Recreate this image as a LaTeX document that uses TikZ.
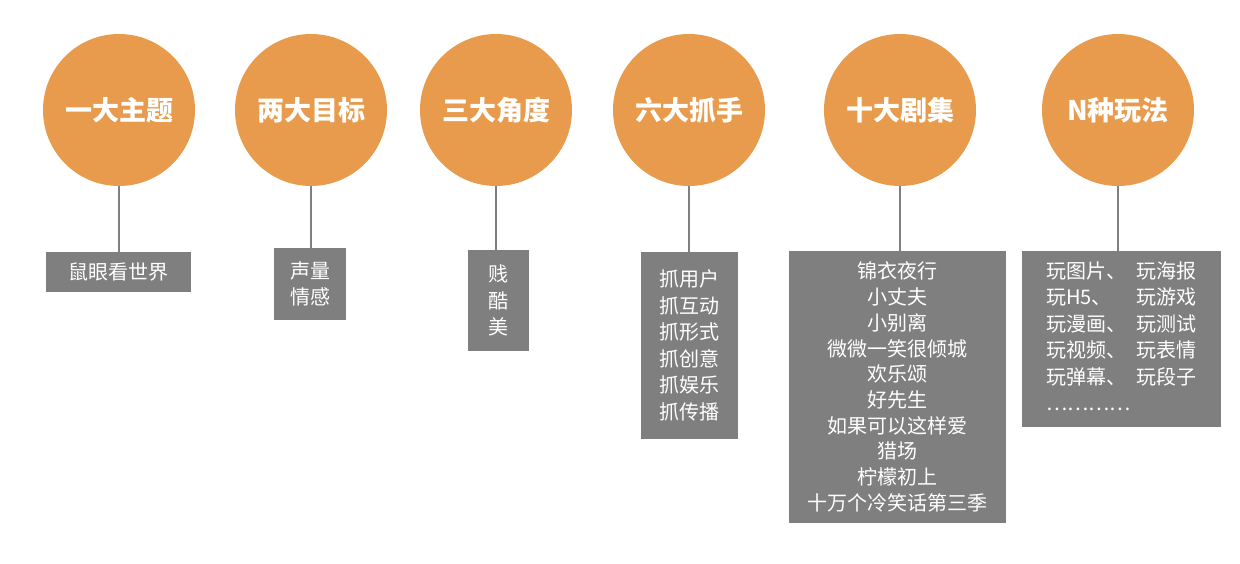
\documentclass[tikz,border=0pt]{standalone}
\usepackage{fontspec}
\setmainfont{Noto Sans CJK SC}
\definecolor{orng}{HTML}{E89B4C}
\definecolor{gbox}{HTML}{7F7F7F}
\definecolor{gline}{HTML}{7F7F7F}
\begin{document}
\begin{tikzpicture}[x=1pt,y=-1pt,
  circ/.style={circle,fill=orng,minimum size=152pt,inner sep=0pt,text=white,font=\fontsize{27}{30}\selectfont\bfseries},
  gb/.style={fill=gbox,text=white,inner sep=0pt,font=\fontsize{20}{26.5}\selectfont,align=center},
  conn/.style={gline,line width=2.2pt}]
\useasboundingbox (0,0) rectangle (1240,563);
\foreach \n/\x/\t in {c1/119/一大主题,c2/311/两大目标,c3/496/三大角度,c4/689/六大抓手,c5/900/十大剧集,c6/1118/N种玩法}
  \node[circ] (\n) at (\x,110) {\t};
\node[gb,minimum width=145pt,minimum height=40pt] (b1) at (118.5,272) {鼠眼看世界};
\node[gb,minimum width=72pt,minimum height=72pt] (b2) at (310,284) {声量\\情感};
\node[gb,minimum width=61pt,minimum height=101pt] (b3) at (498.5,300.5) {贱\\酷\\美};
\node[gb,minimum width=97pt,minimum height=187pt] (b4) at (689.5,345.5) {抓用户\\抓互动\\抓形式\\抓创意\\抓娱乐\\抓传播};
\node[gb,minimum width=217pt,minimum height=272pt,font=\fontsize{20}{25.7}\selectfont] (b5) at (897.5,387) {锦衣夜行\\小丈夫\\小别离\\微微一笑很倾城\\欢乐颂\\好先生\\如果可以这样爱\\猎场\\柠檬初上\\十万个冷笑话第三季};
\node[gb,minimum width=199pt,minimum height=176pt] (b6) at (1121.5,339) {\begin{tabular}{@{}l@{\hspace{6pt}}l@{}}玩图片、&玩海报\\玩H5、&玩游戏\\玩漫画、&玩测试\\玩视频、&玩表情\\玩弹幕、&玩段子\\…………&\end{tabular}};
\foreach \i in {1,...,6} \draw[conn] (c\i.south) -- (c\i.south |- b\i.north);
\end{tikzpicture}
\end{document}
